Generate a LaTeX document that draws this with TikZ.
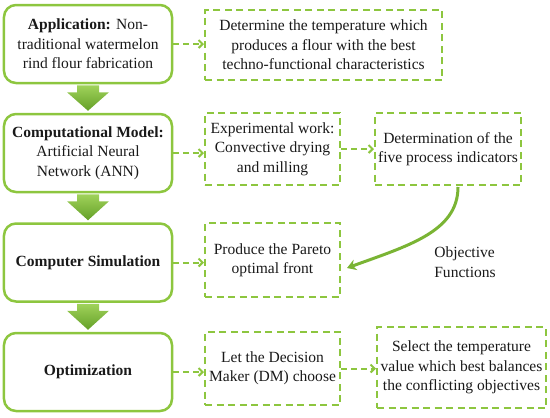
\documentclass[tikz,border=0pt]{standalone}
\usepackage{fontspec}
\setmainfont{Liberation Serif}
\usetikzlibrary{arrows.meta,calc}
\definecolor{lgreen}{RGB}{141,198,63}
\definecolor{dgreen}{RGB}{122,180,52}
\definecolor{atop}{RGB}{160,210,90}
\definecolor{abot}{RGB}{100,160,40}
\begin{document}
\begin{tikzpicture}[x=1bp,y=-1bp,
  every node/.style={font=\fontsize{15.6}{19.5}\selectfont, align=center, inner sep=0pt, text=black!90},
  mainbox/.style={draw=lgreen, line width=2.5bp, rounded corners=12bp, minimum width=168bp, minimum height=78bp},
  dbox/.style={draw=lgreen, line width=2bp, dash pattern=on 7bp off 4.5bp},
  darr/.style={draw=lgreen, line width=2bp, dash pattern=on 6bp off 4bp, -{Straight Barb[length=4bp,width=8bp]}},
  bigarr/.style={top color=atop, bottom color=abot, draw=none}
]
\useasboundingbox (0,0) rectangle (550,417);

\node[mainbox] (a) at (88,44) {\textbf{Application:} Non-\\traditional watermelon\\rind flour fabrication};
\node[mainbox] (b) at (88,153) {\textbf{Computational Model:}\\Artificial Neural\\Network (ANN)};
\node[mainbox] (c) at (88,262.5) {\textbf{Computer Simulation}};
\node[mainbox] (d) at (88,372) {\textbf{Optimization}};

\node[dbox, minimum width=237bp, minimum height=70bp] (a1) at (323.5,45) {Determine the temperature which\\produces a flour with the best\\techno-functional characteristics};
\node[dbox, minimum width=135bp, minimum height=72bp] (b1) at (272.5,149) {Experimental work:\\Convective drying\\and milling};
\node[dbox, minimum width=146bp, minimum height=72bp] (b2) at (448,149) {Determination of the\\five process indicators};
\node[dbox, minimum width=135bp, minimum height=74bp] (c1) at (272.5,260) {Produce the Pareto\\optimal front};
\node[dbox, minimum width=135bp, minimum height=73bp] (d1) at (272.5,368.5) {Let the Decision\\Maker (DM) choose};
\node[dbox, minimum width=169bp, minimum height=81bp] (d2) at (461.5,367.5) {Select the temperature\\value which best balances\\the conflicting objectives};

\node[align=left] (of) at (465,262) {Objective\\Functions};

\draw[darr] (a.east) -- (a1.west |- a.east);
\draw[darr] (b.east) -- (b1.west |- b.east);
\draw[darr] (b1.east) -- (b2.west);
\draw[darr] (c.east) -- (c1.west |- c.east);
\draw[darr] (d.east) -- (d1.west |- d.east);
\draw[darr] (d1.east) -- (d2.west |- d1.east);

\coordinate (cs) at ($(b2.south)+(10,1)$);
\coordinate (ce) at ($(c1.east)+(6,8)$);
\draw[dgreen, line width=3bp, -{Stealth[length=9bp,width=11bp]}] (cs) .. controls ($(cs)+(0,45)$) and ($(ce)+(60,-22)$) .. (ce);

\foreach \u/\v in {a/b,b/c,c/d}{
  \shade[bigarr] ($(\u.south)+(-11,1)$) -- ($(\u.south)+(11,1)$) -- ($(\u.south)+(11,8)$) -- ($(\u.south)+(21,8)$)
     -- ($(\v.north)+(0,-2)$) -- ($(\u.south)+(-21,8)$) -- ($(\u.south)+(-11,8)$) -- cycle;
}
\end{tikzpicture}
\end{document}
